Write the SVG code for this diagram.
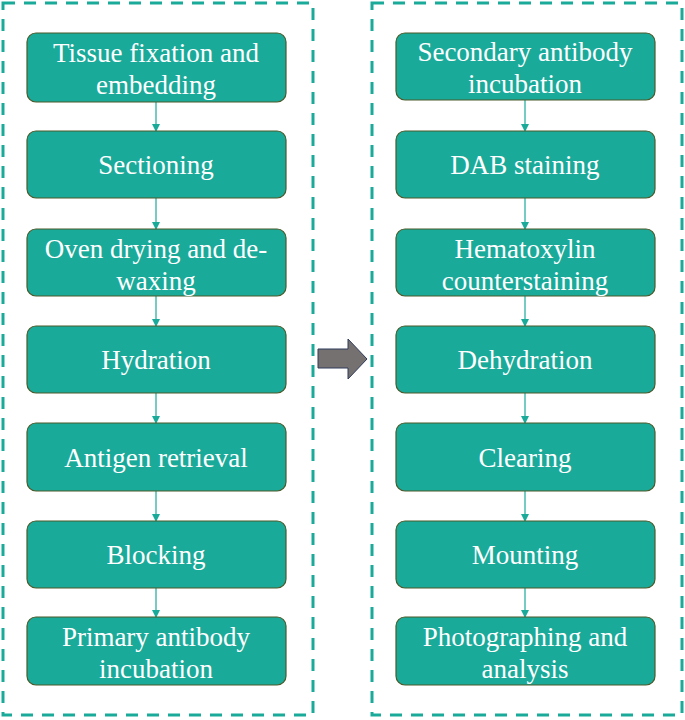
<svg xmlns="http://www.w3.org/2000/svg" width="685" height="720" viewBox="0 0 685 720">
<defs>
<style>
.frame{fill:none;stroke:#1aaa9a;stroke-width:3;stroke-dasharray:12,9}
.node rect{fill:#1aaa9a;stroke:#4a5a2a;stroke-width:1.2}
.node text{fill:#fff;font-family:"Liberation Serif",serif;font-size:27px;text-anchor:middle}
.conn line{stroke:#1aaa9a;stroke-width:1.2;marker-end:url(#ah)}
</style>
<marker id="ah" markerWidth="8" markerHeight="8" refX="7" refY="4" orient="auto" markerUnits="userSpaceOnUse"><path d="M0,0 L8,4 L0,8 Z" fill="#1aaa9a"/></marker>
</defs>
<rect class="frame" x="3" y="3" width="310" height="712"/>
<rect class="frame" x="372" y="3" width="310" height="712"/>
<g class="conn">
<line x1="156" y1="102" x2="156" y2="131"/>
<line x1="156" y1="198" x2="156" y2="229"/>
<line x1="156" y1="296" x2="156" y2="326"/>
<line x1="156" y1="393" x2="156" y2="423"/>
<line x1="156" y1="491" x2="156" y2="521"/>
<line x1="156" y1="588" x2="156" y2="617"/>
<line x1="525" y1="100" x2="525" y2="131"/>
<line x1="525" y1="198" x2="525" y2="229"/>
<line x1="525" y1="296" x2="525" y2="326"/>
<line x1="525" y1="393" x2="525" y2="423"/>
<line x1="525" y1="491" x2="525" y2="521"/>
<line x1="525" y1="588" x2="525" y2="617"/>
</g>
<g id="arrow"><path d="M318,349 L348,349 L348,339 L367,359 L348,379 L348,368 L318,368 Z" fill="#767171" stroke="#2f3b5a" stroke-width="1"/></g>
<g id="n1" class="node"><rect x="27" y="33" width="259" height="69" rx="9"/><text x="156" y="62">Tissue fixation and</text><text x="156" y="94">embedding</text></g>
<g id="n2" class="node"><rect x="27" y="131" width="259" height="67" rx="9"/><text x="156" y="174">Sectioning</text></g>
<g id="n3" class="node"><rect x="27" y="229" width="259" height="67" rx="9"/><text x="156" y="258">Oven drying and de-</text><text x="156" y="290">waxing</text></g>
<g id="n4" class="node"><rect x="27" y="326" width="259" height="67" rx="9"/><text x="156" y="369">Hydration</text></g>
<g id="n5" class="node"><rect x="27" y="423" width="259" height="68" rx="9"/><text x="156" y="467">Antigen retrieval</text></g>
<g id="n6" class="node"><rect x="27" y="521" width="259" height="67" rx="9"/><text x="156" y="564">Blocking</text></g>
<g id="n7" class="node"><rect x="27" y="617" width="259" height="68" rx="9"/><text x="156" y="646">Primary antibody</text><text x="156" y="678">incubation</text></g>
<g id="m1" class="node"><rect x="396" y="33" width="259" height="67" rx="9"/><text x="525" y="61">Secondary antibody</text><text x="525" y="93">incubation</text></g>
<g id="m2" class="node"><rect x="396" y="131" width="259" height="67" rx="9"/><text x="525" y="174">DAB staining</text></g>
<g id="m3" class="node"><rect x="396" y="229" width="259" height="67" rx="9"/><text x="525" y="258">Hematoxylin</text><text x="525" y="290">counterstaining</text></g>
<g id="m4" class="node"><rect x="396" y="326" width="259" height="67" rx="9"/><text x="525" y="369">Dehydration</text></g>
<g id="m5" class="node"><rect x="396" y="423" width="259" height="68" rx="9"/><text x="525" y="467">Clearing</text></g>
<g id="m6" class="node"><rect x="396" y="521" width="259" height="67" rx="9"/><text x="525" y="564">Mounting</text></g>
<g id="m7" class="node"><rect x="396" y="617" width="259" height="68" rx="9"/><text x="525" y="646">Photographing and</text><text x="525" y="678">analysis</text></g>
</svg>
